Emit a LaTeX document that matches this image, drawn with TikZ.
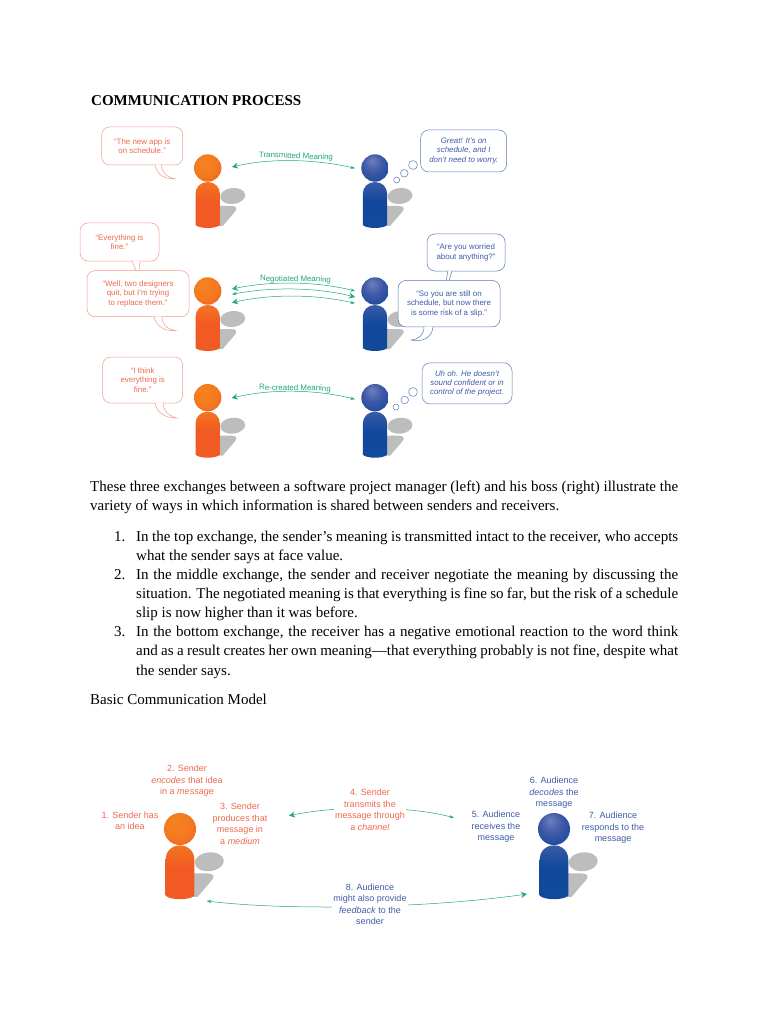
\documentclass[tikz,border=0pt]{standalone}
\usepackage{fontspec}
\setmainfont{Liberation Serif}
\newfontfamily\diagfont{Liberation Sans}
\usetikzlibrary{arrows.meta}
\definecolor{sred}{HTML}{EE6A50}
\definecolor{sblue}{HTML}{3F5CA8}
\definecolor{sgreen}{HTML}{1FA878}
\definecolor{redline}{HTML}{F09A88}
\definecolor{blueline}{HTML}{5B78B8}
\definecolor{shadowgray}{HTML}{BDBDBD}
\definecolor{oa}{HTML}{F15A22}
\definecolor{ob}{HTML}{F58220}
\definecolor{oc}{HTML}{F47A20}
\definecolor{od}{HTML}{EE5022}
\definecolor{ba}{HTML}{0F4A9E}
\definecolor{bb}{HTML}{12489C}
\definecolor{bc}{HTML}{5468AE}
\definecolor{bd}{HTML}{6E7FBC}
\definecolor{be}{HTML}{3D58A6}
\definecolor{bf}{HTML}{0E3F90}
\pgfdeclareverticalshading{orangebody}{100bp}{color(0bp)=(oa);color(55bp)=(oa);color(85bp)=(ob);color(100bp)=(ob)}
\pgfdeclareverticalshading{bluebody}{100bp}{color(0bp)=(ba);color(55bp)=(bb);color(88bp)=(bc);color(100bp)=(bc)}
\pgfdeclareradialshading{orangehead}{\pgfpoint{-8bp}{12bp}}{color(0bp)=(ob);color(22bp)=(oc);color(40bp)=(oa);color(60bp)=(od)}
\pgfdeclareradialshading{bluehead}{\pgfpoint{-6bp}{14bp}}{color(0bp)=(bd);color(18bp)=(be);color(38bp)=(bb);color(60bp)=(bf)}
\tikzset{
  pagetext/.style={anchor=base west,inner sep=0pt,font=\fontsize{15}{18}\selectfont},
  redbubble/.style={draw=redline,fill=white,line width=.5pt,rounded corners=8pt,text=sred,align=center,inner sep=0pt,font=\diagfont\fontsize{7.9}{9.4}\selectfont},
  bluebubble/.style={draw=blueline,fill=white,line width=.5pt,rounded corners=8pt,text=sblue,align=center,inner sep=0pt,font=\diagfont\fontsize{7.9}{9.4}\selectfont},
  thought/.style={draw=blueline,fill=white,line width=.5pt},
  redlabel/.style={text=sred,align=center,inner sep=1pt,font=\diagfont\fontsize{9}{11.5}\selectfont},
  bluelabel/.style={text=sblue,align=center,inner sep=1pt,font=\diagfont\fontsize{9}{11.5}\selectfont},
  meaning/.style={text=sgreen,inner sep=0pt,font=\diagfont\fontsize{7.9}{9.4}\selectfont},
  talk/.style={draw=sgreen,line width=.5pt},
  bigtip/.tip={Stealth[length=6pt,width=6pt,inset=2pt]},
  smalltip/.tip={Stealth[length=4.5pt,width=3pt]},
}
\newcommand{\person}[5]{% x, y, scale, bodyshade, headshade
  \begin{scope}[shift={(#1,#2)},scale=#3]
    \fill[shadowgray] (25,28) ellipse [x radius=12.5,y radius=8,rotate=6];
    \fill[shadowgray] (11,38) -- (24,38) .. controls (29,38) and (30,41) .. (27,44) -- (15,58) -- (11,58) -- cycle;
    \shade[shading=#4] (-12.2,57) -- (-12.2,26) .. controls (-12.2,19) and (-7,14) .. (0,14) .. controls (7,14) and (12.2,19) .. (12.2,26) -- (12.2,57) .. controls (8,61) and (-8,61) .. (-12.2,57) -- cycle;
    \shade[shading=#5] (0,0) circle [radius=13.7];
  \end{scope}}
\newcommand{\pageline}[5]{\node[pagetext] (#1) at (#2,#3) {\makebox[#4pt][s]{#5}};}
\newcommand{\plainline}[4]{\node[pagetext] (#1) at (#2,#3) {#4};}
\begin{document}
\begin{tikzpicture}[x=1pt,y=-1pt]
\useasboundingbox[fill=white] (0,0) rectangle (768,1024);

% page text
\node[pagetext,font=\fontsize{15}{18}\selectfont\bfseries] (title) at (91,106) {COMMUNICATION PROCESS};
\pageline{p1}{90}{491}{588}{These three exchanges between a software project manager (left) and his boss (right) illustrate the}
\plainline{p2}{90}{510}{variety of ways in which information is shared between senders and receivers.}
\plainline{n1}{114}{541}{1.}
\pageline{l1}{136}{541}{542}{In the top exchange, the sender’s meaning is transmitted intact to the receiver, who accepts}
\plainline{l2}{136}{560}{what the sender says at face value.}
\plainline{n2}{114}{579}{2.}
\pageline{l3}{136}{579}{542}{In the middle exchange, the sender and receiver negotiate the meaning by discussing the}
\pageline{l4}{136}{598}{542}{situation. The negotiated meaning is that everything is fine so far, but the risk of a schedule}
\plainline{l5}{136}{617}{slip is now higher than it was before.}
\plainline{n3}{114}{636}{3.}
\pageline{l6}{136}{636}{542}{In the bottom exchange, the receiver has a negative emotional reaction to the word think}
\pageline{l7}{136}{655}{542}{and as a result creates her own meaning—that everything probably is not fine, despite what}
\plainline{l8}{136}{675}{the sender says.}
\plainline{l9}{90}{704}{Basic Communication Model}

% figures
\person{207.7}{168}{1}{orangebody}{orangehead}
\person{375}{168}{1}{bluebody}{bluehead}
\person{207.7}{291}{1}{orangebody}{orangehead}
\person{375}{291}{1}{bluebody}{bluehead}
\person{207.7}{397.7}{1}{orangebody}{orangehead}
\person{375}{397.7}{1}{bluebody}{bluehead}
\person{180}{829}{1.17}{orangebody}{orangehead}
\person{554}{829}{1.17}{bluebody}{bluehead}

% speech bubbles
\node[redbubble,minimum width=81pt,minimum height=38pt] (b1) at (142.2,146) {“The new app is\\on schedule.”};
\draw[draw=redline,fill=white,line width=.5pt] (155,164.7) .. controls (157,175) and (165,179.5) .. (176,179) .. controls (166,177.5) and (162,172) .. (161,164.7);
\node[bluebubble,minimum width=86pt,minimum height=42pt] (b2) at (463.7,151) {\itshape Great! It’s on\\\itshape schedule, and I\\\itshape don’t need to worry.};
\draw[thought] (396.7,180) circle [radius=3];
\draw[thought] (404.3,173.3) circle [radius=3.8];
\draw[thought] (413,165) circle [radius=4.4];

\node[redbubble,minimum width=79pt,minimum height=38pt] (b3) at (119.5,242) {“Everything is\\fine.”};
\draw[draw=redline,fill=white,line width=.5pt] (132,260.7) -- (136,271) -- (139,271) -- (140,260.7);
\node[redbubble,minimum width=102pt,minimum height=46pt] (b4) at (138,293.7) {“Well, two designers\\quit, but I’m trying\\to replace them.”};
\draw[draw=redline,fill=white,line width=.5pt] (154,316.4) .. controls (156,326) and (164,331.5) .. (176,330.7) .. controls (166,329) and (162,324) .. (162,316.4);

\node[bluebubble,minimum width=78pt,minimum height=37pt] (b5) at (466,252.5) {“Are you worried\\about anything?”};
\draw[draw=blueline,fill=white,line width=.5pt] (448,270.7) -- (446,281) -- (449,281) -- (452,270.7);
\node[bluebubble,minimum width=102pt,minimum height=46.5pt] (b6) at (449,303.7) {“So you are still on\\schedule, but now there\\is some risk of a slip.”};
\draw[draw=blueline,fill=white,line width=.5pt] (424,326.7) .. controls (424,335) and (419,339) .. (411,340) .. controls (422,342.5) and (432,338) .. (433,326.7);

\node[redbubble,minimum width=80pt,minimum height=46pt] (b7) at (142.7,380) {“I think\\everything is\\fine.”};
\draw[draw=redline,fill=white,line width=.5pt] (155,402.7) .. controls (156,412) and (165,418.5) .. (177,418) .. controls (168,416) and (163,410) .. (163,402.7);
\node[bluebubble,minimum width=90pt,minimum height=41pt] (b8) at (467,383.4) {\itshape Uh oh. He doesn’t\\\itshape sound confident or in\\\itshape control of the project.};
\draw[thought] (396,407) circle [radius=3];
\draw[thought] (404.7,400) circle [radius=3.8];
\draw[thought] (413,392) circle [radius=4.4];

% exchange arrows
\coordinate (t1a) at (232,167); \coordinate (t1b) at (355,168.3);
\draw[talk,bigtip-smalltip] (t1a) .. controls (270,158) and (315,159) .. (t1b);
\node[meaning,rotate=-2] (t1) at (296,156.5) {Transmitted Meaning};

\coordinate (n1a) at (232,289); \coordinate (n1b) at (355,291);
\coordinate (n2a) at (232,294.3); \coordinate (n2b) at (355,297);
\coordinate (n3a) at (232,302.7); \coordinate (n3b) at (355,303.3);
\draw[talk,bigtip-smalltip] (n1a) .. controls (270,281) and (315,281) .. (n1b);
\draw[talk,smalltip-bigtip] (n2a) .. controls (270,287) and (315,287) .. (n2b);
\draw[talk,bigtip-smalltip] (n3a) .. controls (270,294) and (315,294) .. (n3b);
\node[meaning,rotate=-1] (t2) at (295.5,279.5) {Negotiated Meaning};

\coordinate (r1a) at (231.7,398); \coordinate (r1b) at (355,399.3);
\draw[talk,bigtip-smalltip] (r1a) .. controls (270,389) and (315,389) .. (r1b);
\node[meaning,rotate=-1] (t3) at (295,388.5) {Re-created Meaning};

% model arrows
\coordinate (m4a) at (289,815.7); \coordinate (m4b) at (454,817.7);
\coordinate (m8a) at (206.7,901); \coordinate (m8b) at (527,894);
\draw[talk,bigtip-smalltip] (m4a) .. controls (335,806) and (405,805) .. (m4b);
\draw[talk,smalltip-bigtip] (m8a) .. controls (290,911) and (430,908) .. (m8b);

% model labels
\node[redlabel] (s1) at (130,820.7) {1. Sender has\\an idea};
\node[redlabel] (s2) at (187,780.7) {2. Sender\\\textit{encodes} that idea\\in a \textit{message}};
\node[redlabel] (s3) at (240,824) {3. Sender\\produces that\\message in\\a \textit{medium}};
\node[redlabel,fill=white] (s4) at (370,810) {4. Sender\\transmits the\\message through\\a \textit{channel}};
\node[bluelabel] (s5) at (496,826.7) {5. Audience\\receives the\\message};
\node[bluelabel] (s6) at (554,793) {6. Audience\\\textit{decodes} the\\message};
\node[bluelabel] (s7) at (613,828) {7. Audience\\responds to the\\message};
\node[bluelabel,fill=white] (s8) at (370,904.5) {8. Audience\\might also provide\\\textit{feedback} to the\\sender};
\end{tikzpicture}
\end{document}
